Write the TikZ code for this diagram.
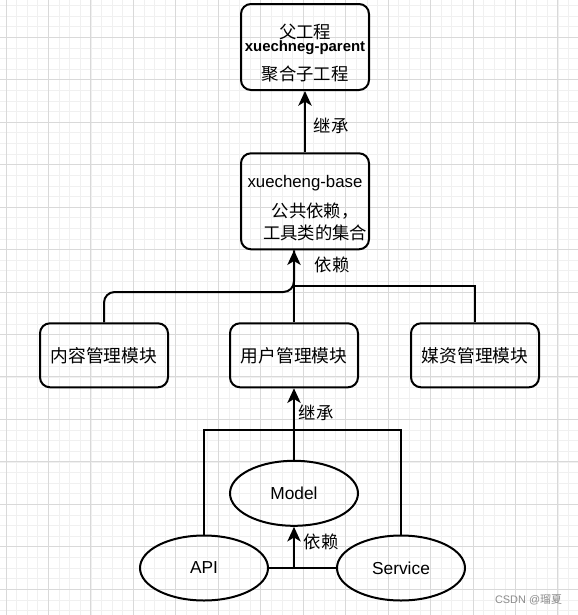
\documentclass[tikz,border=0pt]{standalone}
\usepackage{fontspec}
\setmainfont{Liberation Sans}
\newfontfamily\cjk{Noto Sans CJK SC}
\usetikzlibrary{arrows.meta,shapes.geometric}

\tikzset{
  grillefine/.style={draw=black!6, line width=0.6pt},
  grillegrosse/.style={draw=black!15, line width=0.75pt},
  boite/.style={draw, line width=1.5pt, rounded corners=7.5pt, minimum width=96pt,
    minimum height=48pt, inner sep=0pt, font=\cjk\fontsize{13.3}{15}\selectfont},
  bulle/.style={ellipse, draw, line width=1.5pt, minimum width=96pt,
    minimum height=48.75pt, inner sep=0pt, font=\fontsize{13}{15}\selectfont},
  ligne/.style={line width=1.5pt},
  fleche/.style={line width=1.5pt, -{Stealth[length=11pt,width=10pt,inset=3pt]}},
  texte/.style={inner sep=0pt, font=\cjk\fontsize{13}{15}\selectfont},
}

\begin{document}
\begin{tikzpicture}[x=0.75pt,y=-0.75pt]
\useasboundingbox (0,0) rectangle (578,615);
% Fond quadrille
\fill[white] (0,0) rectangle (578,615);
\foreach \k in {0,...,54} \draw[grillefine] ({6+10.615*\k},0) -- ++(0,615);
\foreach \k in {1,...,58} \draw[grillefine] (0,{-5.16+10.615*\k}) -- ++(578,0);
\foreach \k in {0,...,13} \draw[grillegrosse] ({6+42.46*\k},0) -- ++(0,615);
\foreach \k in {1,...,14} \draw[grillegrosse] (0,{-5.16+42.46*\k}) -- ++(578,0);

% Projet parent
\node[boite, minimum height=64.5pt] (parent) at (305,47) {};
\node[texte] (parentA) at (305,31.7) {父工程};
\node[inner sep=0pt, font=\bfseries\fontsize{11.2}{13}\selectfont] (parentB) at (305,47.7) {xuechneg-parent};
\node[texte] (parentC) at (305,74) {聚合子工程};

% Module de base
\node[boite, minimum height=72pt] (base) at (305,201.3) {};
\node[inner sep=0pt, font=\fontsize{12.6}{15}\selectfont] (baseA) at (305,182.7) {xuecheng-base};
\node[texte] (baseB) at (315,210.7) {公共依赖，};
\node[texte] (baseC) at (315,233.3) {工具类的集合};

% Modules metier
\node[boite] (contenu) at (104,355.3) {内容管理模块};
\node[boite] (usager) at (294,355.3) {用户管理模块};
\node[boite] (media) at (475,355.3) {媒资管理模块};

% Sous-modules
\node[bulle] (model) at (294,493.3) {Model};
\node[bulle] (api) at (204,568) {API};
\node[bulle] (service) at (401,568) {Service};

\coordinate (j1) at (294,292);
\coordinate (j2) at (294,286);
\coordinate (j3) at (294,430);

\draw[fleche] (base) -- (parent);
\node[texte] (herite1) at (331,126) {继承};

\draw[fleche] (usager.north) -- (usager.north |- base.south);
\draw[ligne, rounded corners=8pt] (contenu.north) |- (j1) -- (usager.north |- base.south);
\draw[ligne] (media.north) |- (j2);
\node[texte] (depend1) at (332,265) {依赖};

\draw[fleche] (model.north) -- (usager.south);
\draw[ligne] (api.north) |- (service.north |- j3) -- (service.north);
\node[texte] (herite2) at (316,413.3) {继承};

\draw[ligne] (api.east) -- (service.west);
\draw[fleche] (api.east -| model.south) -- (model.south);
\node[texte] (depend2) at (321,541.7) {依赖};

\node[inner sep=0pt, text=black!45, font=\fontsize{8.2}{10}\selectfont] (filigrane) at (528.5,599.3) {CSDN @{\cjk 瑠夏}};
\end{tikzpicture}
\end{document}
